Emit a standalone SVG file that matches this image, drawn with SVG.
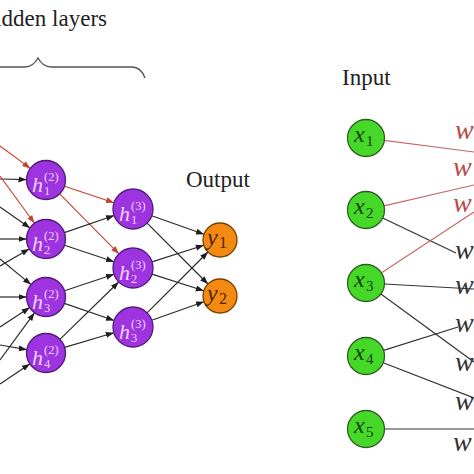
<svg xmlns="http://www.w3.org/2000/svg" width="474" height="474" viewBox="0 0 474 474">
<defs>
<style>
.title{font-family:"Liberation Serif","Times New Roman",serif;font-size:23px;fill:#222}
.ln{stroke:#2b2b2b;stroke-width:1.2;fill:none}
.lr{stroke:#c8402f;stroke-width:1.1;fill:none}
.rr{stroke:#c66a6a;stroke-width:1.2;fill:none}
.rb{stroke:#333;stroke-width:1.2;fill:none}
.hn{fill:#9e33e0;stroke:#4f1a78;stroke-width:1.3}
.on{fill:#f58a12;stroke:#7a4200;stroke-width:1.3}
.gn{fill:#46d829;stroke:#2f5e22;stroke-width:1.3}
.hm{font-family:"Liberation Serif","Times New Roman",serif;font-style:italic;font-size:22px;fill:#ecd2ff}
.hs{font-family:"Liberation Serif","Times New Roman",serif;font-size:12.5px;fill:#ecd2ff}
.ym{font-family:"Liberation Serif","Times New Roman",serif;font-style:italic;font-size:24px;fill:#4a2500}
.ys{font-family:"Liberation Serif","Times New Roman",serif;font-size:16px;fill:#4a2500}
.xm{font-family:"Liberation Serif","Times New Roman",serif;font-style:italic;font-size:24px;fill:#173f0c}
.xs{font-family:"Liberation Serif","Times New Roman",serif;font-size:15px;fill:#173f0c}
.wr{font-family:"Liberation Serif","Times New Roman",serif;font-style:italic;font-size:28px;fill:#b84a4a}
.wb{font-family:"Liberation Serif","Times New Roman",serif;font-style:italic;font-size:28px;fill:#333}
</style>
<marker id="ab" markerUnits="userSpaceOnUse" markerWidth="9" markerHeight="7" refX="8" refY="3" orient="auto"><path d="M0,0 L8,3 L0,6 z" fill="#1e1e1e"/></marker>
<marker id="ar" markerUnits="userSpaceOnUse" markerWidth="9" markerHeight="7" refX="8" refY="3" orient="auto"><path d="M0,0 L8,3 L0,6 z" fill="#c8402f"/></marker>
</defs>
<rect width="474" height="474" fill="#ffffff"/>

<g id="titles">
<text class="title" x="107" y="26" text-anchor="end" font-size="24">Hidden layers</text>
<path d="M0,67 L25,67 Q33,67 38,58 Q43,67 51,67 L132,67 Q141,67 145,78" fill="none" stroke="#555" stroke-width="1.4"/>
<text class="title" x="186" y="187" font-size="24">Output</text>
<text class="title" x="342" y="85">Input</text>
</g>

<g id="connectors">
<line class="lr" x1="0" y1="146" x2="30.3" y2="168.4" marker-end="url(#ar)"/>
<line class="ln" x1="0" y1="179" x2="26.5" y2="179.6" marker-end="url(#ab)"/>
<line class="lr" x1="0" y1="176" x2="34.5" y2="223.2" marker-end="url(#ar)"/>
<line class="ln" x1="0" y1="207" x2="30" y2="227.9" marker-end="url(#ab)"/>
<line class="ln" x1="0" y1="239" x2="26.5" y2="239" marker-end="url(#ab)"/>
<line class="ln" x1="0" y1="266" x2="29.2" y2="248.9" marker-end="url(#ab)"/>
<line class="ln" x1="0" y1="259" x2="31" y2="284.6" marker-end="url(#ab)"/>
<line class="ln" x1="0" y1="297" x2="26.5" y2="297" marker-end="url(#ab)"/>
<line class="ln" x1="0" y1="327" x2="29.7" y2="307.6" marker-end="url(#ab)"/>
<line class="ln" x1="0" y1="360" x2="34.5" y2="312.8" marker-end="url(#ab)"/>
<line class="ln" x1="0" y1="345" x2="26.8" y2="349.7" marker-end="url(#ab)"/>
<line class="ln" x1="0" y1="384" x2="29.8" y2="363.9" marker-end="url(#ab)"/>

<line class="lr" x1="64.5" y1="186.2" x2="114" y2="202.7" marker-end="url(#ar)"/>
<line class="lr" x1="59.7" y1="193.9" x2="118.9" y2="253.8" marker-end="url(#ar)"/>
<line class="ln" x1="64.4" y1="232.6" x2="114.1" y2="215.5" marker-end="url(#ab)"/>
<line class="ln" x1="64.5" y1="245.2" x2="114" y2="261.7" marker-end="url(#ab)"/>
<line class="ln" x1="64.5" y1="290.8" x2="114" y2="274.3" marker-end="url(#ab)"/>
<line class="ln" x1="64.4" y1="303.4" x2="114.1" y2="320.5" marker-end="url(#ab)"/>
<line class="ln" x1="59.9" y1="339.4" x2="118.7" y2="282" marker-end="url(#ab)"/>
<line class="ln" x1="64.7" y1="347.4" x2="113.8" y2="332.7" marker-end="url(#ab)"/>

<line class="ln" x1="151.8" y1="215.7" x2="204" y2="234.3" marker-end="url(#ab)"/>
<line class="ln" x1="147.1" y1="223.1" x2="208" y2="284" marker-end="url(#ab)"/>
<line class="ln" x1="152" y1="261.9" x2="203.8" y2="245.2" marker-end="url(#ab)"/>
<line class="ln" x1="152" y1="274.1" x2="203.8" y2="290.8" marker-end="url(#ab)"/>
<line class="ln" x1="147.1" y1="312.9" x2="208" y2="252" marker-end="url(#ab)"/>
<line class="ln" x1="151.8" y1="320.3" x2="204" y2="301.7" marker-end="url(#ab)"/>

<line class="rr" x1="384.3" y1="140.4" x2="474" y2="152"/>
<line class="rr" x1="384" y1="205.8" x2="474" y2="185"/>
<line class="rb" x1="382.7" y1="218" x2="456" y2="253"/>
<line class="rr" x1="381.5" y1="272.8" x2="474" y2="212"/>
<line class="rb" x1="384.5" y1="284" x2="474" y2="289"/>
<line class="rb" x1="380.9" y1="293.9" x2="474" y2="362"/>
<line class="rb" x1="383.6" y1="350.4" x2="458" y2="327"/>
<line class="rb" x1="383.2" y1="362.7" x2="474" y2="398"/>
<line class="rb" x1="384.5" y1="429" x2="474" y2="429"/>
</g>

<g id="h2_1"><circle class="hn" cx="46" cy="180" r="19.5"/><text class="hm" x="32" y="192">h</text><text class="hs" x="44" y="181">(2)</text><text class="hs" x="44" y="195">1</text></g>
<g id="h2_2"><circle class="hn" cx="46" cy="239" r="19.5"/><text class="hm" x="32" y="251">h</text><text class="hs" x="44" y="240">(2)</text><text class="hs" x="44" y="254">2</text></g>
<g id="h2_3"><circle class="hn" cx="46" cy="297" r="19.5"/><text class="hm" x="32" y="309">h</text><text class="hs" x="44" y="298">(2)</text><text class="hs" x="44" y="312">3</text></g>
<g id="h2_4"><circle class="hn" cx="46" cy="353" r="19.5"/><text class="hm" x="32" y="365">h</text><text class="hs" x="44" y="354">(2)</text><text class="hs" x="44" y="368">4</text></g>

<g id="h3_1"><circle class="hn" cx="133" cy="209" r="20"/><text class="hm" x="119" y="221">h</text><text class="hs" x="131" y="210">(3)</text><text class="hs" x="131" y="224">1</text></g>
<g id="h3_2"><circle class="hn" cx="133" cy="268" r="20"/><text class="hm" x="119" y="280">h</text><text class="hs" x="131" y="269">(3)</text><text class="hs" x="131" y="283">2</text></g>
<g id="h3_3"><circle class="hn" cx="133" cy="327" r="20"/><text class="hm" x="119" y="339">h</text><text class="hs" x="131" y="328">(3)</text><text class="hs" x="131" y="342">3</text></g>

<g id="y1"><circle class="on" cx="220" cy="240" r="17"/><text class="ym" x="207" y="245">y</text><text class="ys" x="219" y="248">1</text></g>
<g id="y2"><circle class="on" cx="220" cy="296" r="17"/><text class="ym" x="207" y="301">y</text><text class="ys" x="219" y="304">2</text></g>

<g id="x1"><circle class="gn" cx="366" cy="138" r="18.5"/><text class="xm" x="354" y="142">x</text><text class="xs" x="366" y="146">1</text></g>
<g id="x2"><circle class="gn" cx="366" cy="210" r="18.5"/><text class="xm" x="354" y="214">x</text><text class="xs" x="366" y="218">2</text></g>
<g id="x3"><circle class="gn" cx="366" cy="283" r="18.5"/><text class="xm" x="354" y="287">x</text><text class="xs" x="366" y="291">3</text></g>
<g id="x4"><circle class="gn" cx="366" cy="356" r="18.5"/><text class="xm" x="354" y="360">x</text><text class="xs" x="366" y="364">4</text></g>
<g id="x5"><circle class="gn" cx="366" cy="429" r="18.5"/><text class="xm" x="354" y="433">x</text><text class="xs" x="366" y="437">5</text></g>

<g id="weights">
<text class="wr" x="455" y="139">w</text>
<text class="wr" x="453" y="176">w</text>
<text class="wr" x="453" y="212">w</text>
<text class="wb" x="455" y="259">w</text>
<text class="wb" x="455" y="294">w</text>
<text class="wb" x="455" y="332">w</text>
<text class="wb" x="455" y="371">w</text>
<text class="wb" x="455" y="410">w</text>
<text class="wb" x="453" y="451">w</text>
</g>
</svg>
